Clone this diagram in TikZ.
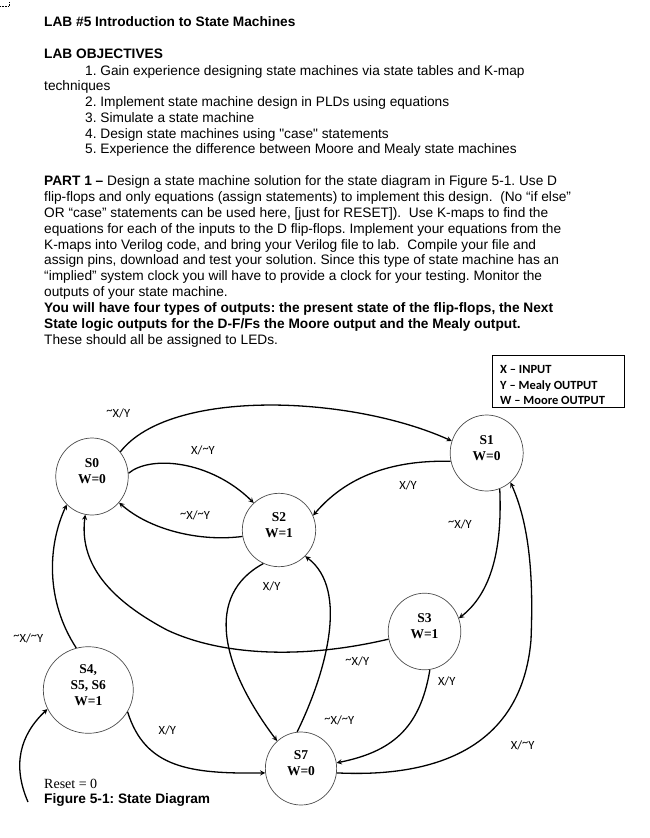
\documentclass[tikz,border=0pt]{standalone}
\usepackage{fontspec}
\usetikzlibrary{shapes.geometric}
\newfontfamily\arialf{Liberation Sans}
\newfontfamily\timesf{Liberation Serif}
\newfontfamily\calibf{Carlito}
\newcommand{\tld}{\raisebox{2.5pt}{\textasciitilde}}
\frenchspacing

\tikzset{
  state/.style={ellipse, draw=black!70, line width=0.7pt, inner sep=0pt},
  statetext/.style={align=center, inner sep=0pt, font=\timesf\bfseries\fontsize{13.5}{16}\selectfont},
  bodytext/.style={anchor=base west, inner sep=0pt, font=\arialf\fontsize{13.7}{16}\selectfont},
  edgelabel/.style={inner sep=0pt, font=\calibf\fontsize{12.5}{14}\selectfont},
  legendtext/.style={anchor=base west, inner sep=0pt, font=\calibf\bfseries\fontsize{12.5}{14}\selectfont},
  transition/.style={->, line width=1.3pt}
}

\begin{document}
\begin{tikzpicture}[x=1pt, y=1pt, >=stealth]
\useasboundingbox (0,0) rectangle (650,-838);
\draw[densely dotted, line width=0.6pt] (0,-6.5) -- (9,-6.5) -- (9,-1.5);

% header and objectives
\node[bodytext, font=\arialf\bfseries\fontsize{13.7}{16}\selectfont] (title) at (44,-26) {LAB \#5 Introduction to State Machines};
\node[bodytext, font=\arialf\bfseries\fontsize{13.7}{16}\selectfont] (obj) at (44,-58) {LAB OBJECTIVES};
\node[bodytext] (obj1) at (85,-75) {1. Gain experience designing state machines via state tables and K-map};
\node[bodytext] (obj1b) at (44,-90) {techniques};
\node[bodytext] (obj2) at (85,-106) {2. Implement state machine design in PLDs using equations};
\node[bodytext] (obj3) at (85,-122) {3. Simulate a state machine};
\node[bodytext] (obj4) at (85,-138) {4. Design state machines using "case" statements};
\node[bodytext] (obj5) at (85,-153) {5. Experience the difference between Moore and Mealy state machines};

% part 1
\node[bodytext] (p1) at (44,-185) {\textbf{PART 1 –} Design a state machine solution for the state diagram in Figure 5-1. Use D};
\node[bodytext] (p2) at (44,-201) {flip-flops and only equations (assign statements) to implement this design.\ \ (No “if else”};
\node[bodytext] (p3) at (44,-217) {OR “case” statements can be used here, [just for RESET]).\ \ Use K-maps to find the};
\node[bodytext] (p4) at (44,-233) {equations for each of the inputs to the D flip-flops. Implement your equations from the};
\node[bodytext] (p5) at (44,-249) {K-maps into Verilog code, and bring your Verilog file to lab.\ \ Compile your file and};
\node[bodytext] (p6) at (44,-264) {assign pins, download and test your solution. Since this type of state machine has an};
\node[bodytext] (p7) at (44,-280) {“implied” system clock you will have to provide a clock for your testing. Monitor the};
\node[bodytext] (p8) at (44,-296) {outputs of your state machine.};
\node[bodytext] (p9) at (44,-312) {\textbf{You will have four types of outputs: the present state of the flip-flops, the Next}};
\node[bodytext] (p10) at (44,-328) {\textbf{State logic outputs for the D-F/Fs the Moore output and the Mealy output.}};
\node[bodytext] (p11) at (44,-344) {These should all be assigned to LEDs.};

% legend
\node[draw, line width=1pt, anchor=north west, minimum width=132, minimum height=52, inner sep=0pt] (legend) at (492,-355) {};
\node[legendtext] (leg1) at (500,-373) {X – INPUT};
\node[legendtext] (leg2) at (500,-389) {Y – Mealy OUTPUT};
\node[legendtext] (leg3) at (500,-404) {W – Moore OUTPUT};

% states
\foreach \n/\x/\y/\w/\h/\t in {
    s0/92/476.5/72.5/77/S0\\W=0,
    s1/486.7/453/73/76/S1\\W=0,
    s2/279/530/73.4/73.4/S2\\W=1,
    s3/424.5/631.5/72.6/76.6/S3\\W=1,
    s4/88.3/690/90/86.6/S4{,}\\S5{,} S6\\W=1,
    s7/301/768.5/71.3/73/S7\\W=0}{
    \node[state, minimum width=\w, minimum height=\h] (\n) at (\x,-\y) {};
    \node[statetext] (\n txt) at ([yshift=5]\n) {\t};
}

% transitions
\draw[transition] (s0.41) .. controls (170,-388) and (350,-395) .. (s1.161);
\draw[transition] (s0.5) .. controls (150,-455) and (210,-460) .. (s2.133);
\draw[transition] (s2.190) .. controls (200,-542) and (150,-530) .. (s0.316);
\draw[transition] (s1.193) .. controls (400,-460) and (350,-472) .. (s2.23);
\draw[transition] (s1.290) .. controls (502,-540) and (495,-590) .. (s3.21);
\draw[transition] (s7.353) .. controls (440,-778) and (522,-745) .. (531,-640)
    .. controls (533,-590) and (532,-530) .. (s1.309);
\draw[transition] (s3.192) .. controls (300,-660) and (220,-655) .. (167,-630)
    .. controls (120,-605) and (78,-570) .. (s0.260);
\draw[transition] (s4.106) .. controls (45,-600) and (48,-545) .. (s0.228);
\draw[transition] (s2.245) .. controls (205,-595) and (220,-665) .. (s7.131);
\draw[transition] (s7.96) .. controls (325,-675) and (350,-590) .. (s2.315);
\draw[transition] (s3.278) .. controls (420,-730) and (390,-752) .. (s7.9);
\draw[transition] (s4.331) .. controls (145,-768) and (190,-774) .. (s7.187);
\coordinate (reset) at (28,-802);
\draw[transition] (reset) .. controls (12,-765) and (20,-735) .. (s4.205);

% labels
\node[edgelabel] (l01) at (118.3,-413.3) {\tld X/Y};
\node[edgelabel] (l02) at (203,-450.7) {X/\tld Y};
\node[edgelabel] (l20) at (195,-515.7) {\tld X/\tld Y};
\node[edgelabel] (l12) at (408,-485) {X/Y};
\node[edgelabel] (l13) at (460,-524) {\tld X/Y};
\node[edgelabel] (l27) at (271.7,-586.7) {X/Y};
\node[edgelabel] (l40) at (28.3,-638.3) {\tld X/\tld Y};
\node[edgelabel] (l30) at (357.3,-661.7) {\tld X/Y};
\node[edgelabel] (l37) at (446.7,-681.7) {X/Y};
\node[edgelabel] (l72) at (339.3,-720.7) {\tld X/\tld Y};
\node[edgelabel] (l47) at (167.3,-730.7) {X/Y};
\node[edgelabel] (l71) at (522.7,-745) {X/\tld Y};

\node[bodytext, font=\timesf\fontsize{14}{16}\selectfont] (resettxt) at (44,-788) {Reset = 0};
\node[bodytext, font=\arialf\bfseries\fontsize{13.7}{16}\selectfont] (caption) at (44,-803) {Figure 5-1: State Diagram};
\end{tikzpicture}
\end{document}
